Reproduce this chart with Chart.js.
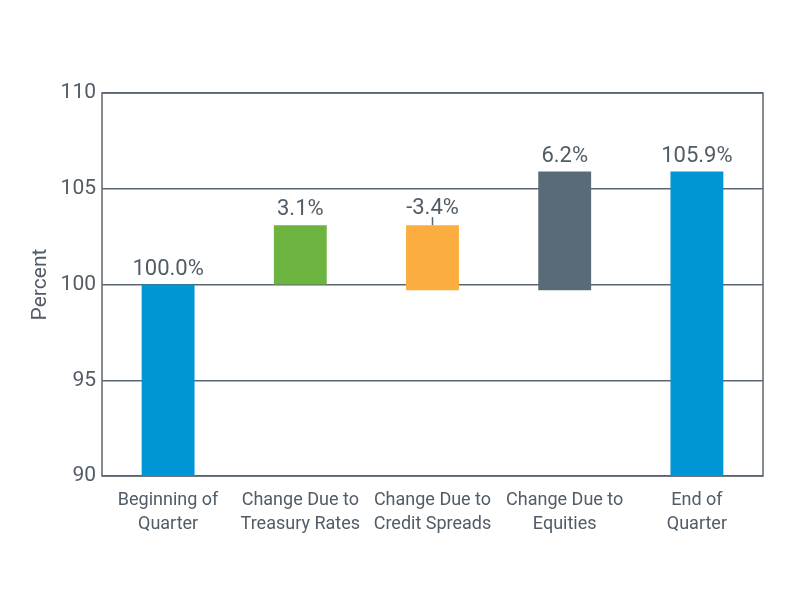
<!DOCTYPE html>
<html>
<head>
<meta charset="utf-8">
<script src="https://cdn.jsdelivr.net/npm/chart.js@4"></script>
<style>
  html, body { margin: 0; padding: 0; background: #fff; }
  #wrap { width: 800px; height: 607px; }
</style>
</head>
<body>
<div id="wrap"><canvas id="chart"></canvas></div>
<script>
const categories = [
  ["Beginning of", "Quarter"],
  ["Change Due to", "Treasury Rates"],
  ["Change Due to", "Credit Spreads"],
  ["Change Due to", "Equities"],
  ["End of", "Quarter"]
];
const barStarts = [90, 100, 99.7, 99.7, 90];
const barEnds = [100, 103.1, 103.1, 105.9, 105.9];
const valueLabels = ["100.0%", "3.1%", "-3.4%", "6.2%", "105.9%"];
const barColors = ["#0096d6", "#6db33f", "#fbad3f", "#5a6b78", "#0096d6"];
const yTicks = [90, 95, 100, 105, 110];

const FONT = "'Roboto', sans-serif";
const TEXT = "#515c66";
const LINE = "#5b6670";

const labelPlugin = {
  id: "labels",
  afterDatasetsDraw(chart) {
    const ctx = chart.ctx;
    const meta = chart.getDatasetMeta(0);
    ctx.save();
    ctx.font = "22px " + FONT;
    ctx.fillStyle = TEXT;
    ctx.textAlign = "center";
    ctx.textBaseline = "alphabetic";
    meta.data.forEach((bar, i) => {
      const top = Math.min(bar.y, bar.base);
      let gap = 10;
      if (i === 2) {
        // short tick between label and bar
        ctx.strokeStyle = LINE;
        ctx.lineWidth = 1.5;
        ctx.beginPath();
        ctx.moveTo(bar.x, top);
        ctx.lineTo(bar.x, top - 8);
        ctx.stroke();
        gap = 11;
      }
      ctx.fillText(valueLabels[i], bar.x, top - gap);
    });
    ctx.restore();
  },
  beforeDatasetsDraw(chart) {
    const { ctx, chartArea: a } = chart;
    ctx.save();
    ctx.strokeStyle = LINE;
    ctx.lineWidth = 1.5;
    ctx.strokeRect(a.left, a.top, a.right - a.left, a.bottom - a.top);
    ctx.restore();
  }
};

new Chart(document.getElementById("chart"), {
  type: "bar",
  data: {
    labels: categories,
    datasets: [{
      data: barStarts.map((s, i) => [s, barEnds[i]]),
      backgroundColor: barColors,
      borderWidth: 0,
      categoryPercentage: 1,
      barPercentage: 0.4
    }]
  },
  options: {
    responsive: true,
    maintainAspectRatio: false,
    animation: false,
    layout: { padding: { left: 28, right: 37, top: 93, bottom: 60 } },
    plugins: { legend: { display: false }, tooltip: { enabled: false } },
    scales: {
      x: {
        grid: { display: false },
        border: { display: false },
        ticks: { color: TEXT, font: { family: FONT, size: 18, lineHeight: 1.3 }, padding: 5, maxRotation: 0 },
        afterFit(s) { s.height = 71; }
      },
      y: {
        min: 90,
        max: 110,
        afterBuildTicks(s) { s.ticks = yTicks.map(v => ({ value: v })); },
        grid: { color: LINE, lineWidth: 1.5, drawTicks: false },
        border: { display: false },
        ticks: { color: TEXT, font: { family: FONT, size: 21 }, padding: 6 },
        title: { display: true, text: "Percent", color: TEXT, font: { family: FONT, size: 21 }, padding: 0 },
        afterFit(s) { s.width = 74; }
      }
    }
  },
  plugins: [labelPlugin]
});
</script>
</body>
</html>
